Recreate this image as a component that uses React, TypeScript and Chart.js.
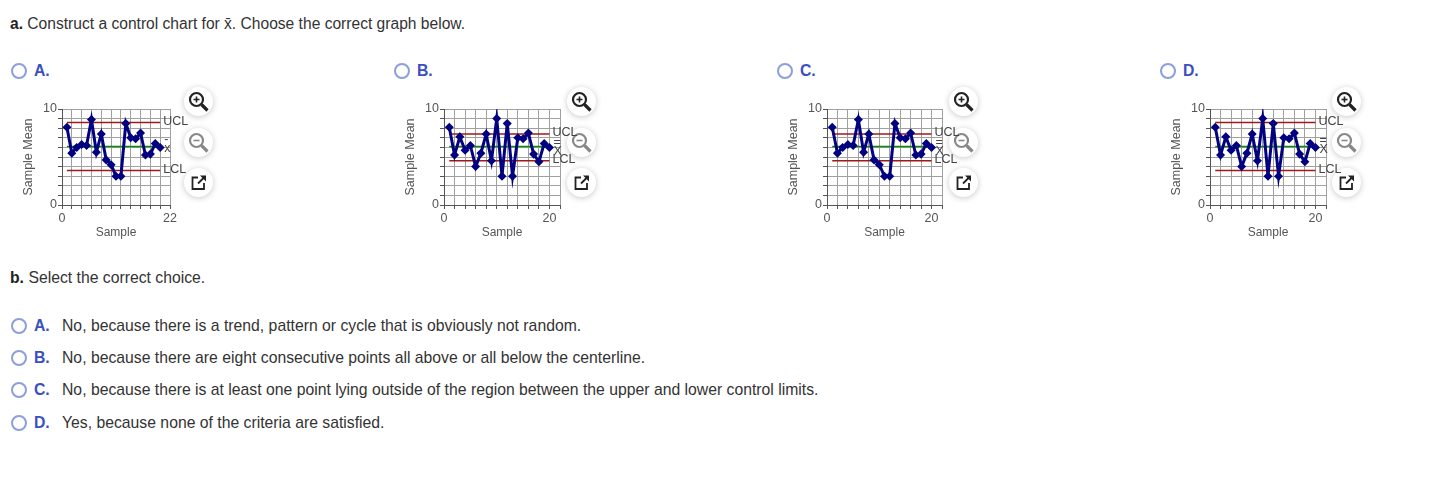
import React, { useEffect, useRef } from "react";
import { Chart, registerables } from "chart.js";

Chart.register(...registerables);

// ---- data ----
const meansAC = [8.1, 5.4, 6.0, 6.3, 6.2, 8.9, 5.5, 7.4, 4.7, 4.2, 3.0, 3.0, 8.5, 7.0, 6.9, 7.5, 5.2, 5.3, 6.4, 6.0];
const meansBD = [8.1, 5.2, 7.1, 5.7, 6.2, 4.0, 5.4, 7.4, 4.6, 9.0, 3.0, 8.5, 3.0, 7.0, 6.9, 7.5, 5.3, 4.5, 6.4, 6.0];
const centerValue = 6.1;
const wideLimits = [8.6, 3.6];
const narrowLimits = [7.4, 4.6];
const optionLetters = ["A.", "B.", "C.", "D."];
const headingA = "Construct a control chart for x\u0304. Choose the correct graph below.";
const headingB = "Select the correct choice.";
const choices = [
  "No, because there is a trend, pattern or cycle that is obviously not random.",
  "No, because there are eight consecutive points all above or all below the centerline.",
  "No, because there is at least one point lying outside of the region between the upper and lower control limits.",
  "Yes, because none of the criteria are satisfied.",
];

const FONT = "'Liberation Sans', Arial, sans-serif";
const GREY = "#555555";

type Panel = {
  letterX: number; radioX: number; left: number; width: number; btnX: number;
  means: number[]; limits: number[]; xLabel: number; sym: string; bar: string; symDy: number;
};

const panels: Panel[] = [
  { radioX: 19, letterX: 34, left: 62, width: 108, btnX: 198, means: meansAC, limits: wideLimits, xLabel: 22, sym: "x", bar: "-", symDy: 2.5 },
  { radioX: 402, letterX: 417, left: 444, width: 116, btnX: 581, means: meansBD, limits: narrowLimits, xLabel: 20, sym: "X", bar: "=", symDy: 5.5 },
  { radioX: 785, letterX: 800, left: 827, width: 115, btnX: 963, means: meansAC, limits: narrowLimits, xLabel: 20, sym: "X", bar: "=", symDy: 5.5 },
  { radioX: 1168, letterX: 1183, left: 1210, width: 116, btnX: 1346, means: meansBD, limits: wideLimits, xLabel: 20, sym: "X", bar: "=", symDy: 3.5 },
];

const PLOT_TOP = 109;
const PLOT_H = 96;
const CANVAS_TOP = 95;
const CANVAS_H = 150;
const AXIS_W = 42;
const RIGHT_PAD = 50;

function MiniChart({ p }: { p: Panel }) {
  const ref = useRef<HTMLCanvasElement>(null);
  useEffect(() => {
    const xs = p.means.map((_, i) => i + 1);
    const flat = (v: number) => xs.map((x) => ({ x, y: v }));
    const labelPlugin = {
      id: "limitLabels",
      afterDatasetsDraw(chart: any) {
        const { ctx, scales } = chart;
        const x = scales.x.getPixelForValue(20) + 3;
        ctx.save();
        ctx.font = `12.5px ${FONT}`;
        ctx.fillStyle = "#444444";
        ctx.textBaseline = "middle";
        ctx.textAlign = "left";
        ctx.fillText("UCL", x, scales.y.getPixelForValue(p.limits[0]) - 1);
        ctx.fillText("LCL", x, scales.y.getPixelForValue(p.limits[1]) - 1);
        const cy = scales.y.getPixelForValue(centerValue);
        ctx.fillText(p.sym, x + 1, cy + p.symDy);
        ctx.fillText(p.bar, x + 1, cy + p.symDy - 9);
        ctx.restore();
      },
    };
    const chart = new Chart(ref.current!, {
      type: "line",
      data: {
        datasets: [
          { data: p.means.map((y, i) => ({ x: i + 1, y })), borderColor: "#000080", backgroundColor: "#000080", borderWidth: 3, pointRadius: 2.4, pointStyle: "rectRot", tension: 0 },
          { data: flat(centerValue), borderColor: "#0a8a0a", borderWidth: 1.5, pointRadius: 0 },
          { data: flat(p.limits[0]), borderColor: "#a01818", borderWidth: 1.5, pointRadius: 0 },
          { data: flat(p.limits[1]), borderColor: "#a01818", borderWidth: 1.5, pointRadius: 0 },
        ],
      },
      options: {
        animation: false,
        responsive: false,
        devicePixelRatio: 1,
        layout: { padding: { top: PLOT_TOP - CANVAS_TOP, right: RIGHT_PAD, left: 0, bottom: 0 } },
        plugins: { legend: { display: false }, tooltip: { enabled: false } },
        scales: {
          x: {
            type: "linear", min: 0, max: 22,
            border: { color: GREY },
            grid: { color: "#a0a0a0", tickColor: GREY, tickLength: 4, lineWidth: 1 },
            ticks: {
              stepSize: 2, autoSkip: false, maxRotation: 0, padding: 2,
              color: GREY, font: { family: FONT, size: 12.5 },
              callback: (v: any) => (v === 0 || v === p.xLabel ? String(v) : ""),
            },
            title: { display: true, text: "Sample", color: GREY, font: { family: FONT, size: 12 }, padding: { top: 5, bottom: 5 } },
            afterFit: (s: any) => { s.height = CANVAS_H - (PLOT_TOP - CANVAS_TOP) - PLOT_H; },
          },
          y: {
            type: "linear", min: 0, max: 10,
            border: { color: GREY },
            grid: { color: "#a0a0a0", tickColor: GREY, tickLength: 4, lineWidth: 1 },
            ticks: {
              stepSize: 1, autoSkip: false, padding: 1,
              color: GREY, font: { family: FONT, size: 12.5 },
              callback: (v: any) => (v === 0 || v === 10 ? String(v) : ""),
            },
            title: { display: true, text: "Sample Mean", color: GREY, font: { family: FONT, size: 12.5 }, padding: { top: 1, bottom: 1 } },
            afterFit: (s: any) => { s.width = AXIS_W; },
          },
        },
      },
      plugins: [labelPlugin],
    } as any);
    return () => chart.destroy();
  }, [p]);
  return (
    <canvas
      ref={ref}
      width={AXIS_W + p.width + RIGHT_PAD}
      height={CANVAS_H}
      style={{ position: "absolute", left: p.left - AXIS_W, top: CANVAS_TOP, width: AXIS_W + p.width + RIGHT_PAD, height: CANVAS_H }}
    />
  );
}

function Radio({ x, y }: { x: number; y: number }) {
  return (
    <div style={{ position: "absolute", boxSizing: "border-box", left: x - 8, top: y - 8, width: 16, height: 16, borderRadius: "50%", border: "2px solid #8c9ede", background: "#fff" }} />
  );
}

function Label({ x, y, children, style }: any) {
  return (
    <div style={{ position: "absolute", left: x, top: y - 10, height: 20, lineHeight: "20px", fontFamily: FONT, fontSize: 15.75, color: "#333", whiteSpace: "nowrap", ...style }}>
      {children}
    </div>
  );
}

function Btn({ x, y, kind }: { x: number; y: number; kind: "in" | "out" | "pop" }) {
  const c = kind === "out" ? "#888" : "#222";
  return (
    <div style={{ position: "absolute", left: x - 14.5, top: y - 14.5, width: 29, height: 29, borderRadius: "50%", background: "#fff", boxShadow: "0 1px 6px rgba(0,0,0,0.22)" }}>
      <svg width="29" height="29" viewBox="0 0 29 29">
        {kind === "pop" ? (
          <g fill="none" stroke={c} strokeWidth="1.8">
            <path d="M14 9.5 H8.5 V21 H20 V15" />
            <path d="M14 15.5 L20 9.5" />
            <path d="M16 7.5 H22 V13.5 Z" fill={c} stroke="none" />
          </g>
        ) : (
          <g fill="none" stroke={c} strokeWidth="2.2">
            <circle cx="12.5" cy="12.5" r="6.5" />
            <path d="M17.5 17.5 L23.5 23.5" strokeWidth="3.2" />
            <path d="M9.5 12.5 H15.5" strokeWidth="1.6" />
            {kind === "in" && <path d="M12.5 9.5 V15.5" strokeWidth="1.6" />}
          </g>
        )}
      </svg>
    </div>
  );
}

export default function App() {
  return (
    <div style={{ position: "absolute", left: 0, top: 0, width: 1434, height: 500, background: "#fff", overflow: "hidden" }}>
      <Label x={10} y={24} style={{ fontSize: 15.6 }}><b style={{ color: "#222" }}>a. </b>{headingA}</Label>
      {panels.map((p, i) => (
        <React.Fragment key={i}>
          <Radio x={p.radioX} y={70.5} />
          <Label x={p.letterX} y={70.5} style={{ color: "#3a50c0", fontWeight: "bold" }}>{optionLetters[i]}</Label>
          <Btn x={p.btnX} y={101} kind="in" />
          <Btn x={p.btnX} y={142} kind="out" />
          <Btn x={p.btnX} y={182} kind="pop" />
          <MiniChart p={p} />
        </React.Fragment>
      ))}
      <Label x={10} y={278}><b style={{ color: "#222" }}>b. </b>{headingB}</Label>
      {choices.map((c, i) => {
        const y = 326 + i * 32.2;
        return (
          <React.Fragment key={i}>
            <Radio x={19} y={y} />
            <Label x={34} y={y} style={{ color: "#3a50c0", fontWeight: "bold" }}>{optionLetters[i]}</Label>
            <Label x={62} y={y}>{c}</Label>
          </React.Fragment>
        );
      })}
    </div>
  );
}
